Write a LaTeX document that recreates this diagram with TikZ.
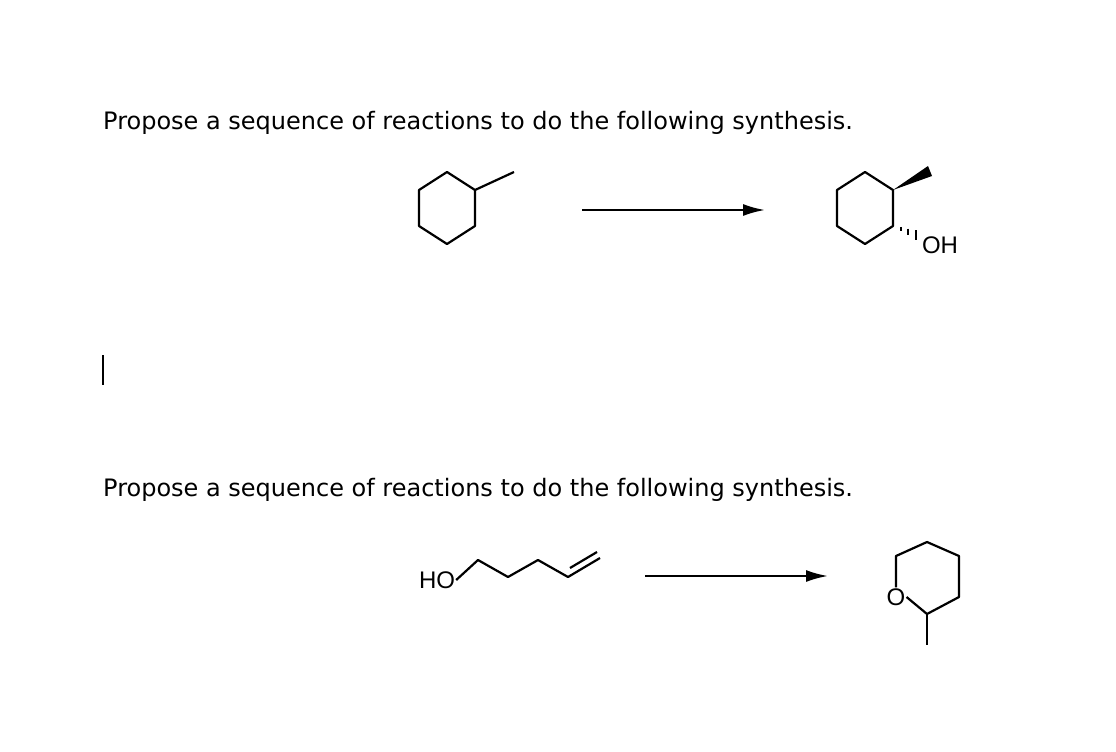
\documentclass[tikz,border=0pt]{standalone}
\usepackage{fontspec}
\usetikzlibrary{arrows.meta,calc}
\setmainfont{DejaVu Sans}
\newfontfamily\labfont{Liberation Sans}
\begin{document}
\begin{tikzpicture}[x=1pt,y=-1pt,bond/.style={line width=2.2pt,line join=round},
 rarrow/.style={line width=2.2pt,-{Latex[length=22pt,width=12pt]}},
 title/.style={anchor=west,font=\fontsize{24}{28}\selectfont,inner sep=0},
 lab/.style={font=\labfont\fontsize{24}{28}\selectfont,inner sep=1pt}]
\useasboundingbox[fill=white] (0,0) rectangle (1116,752);
\node[title] (t1) at (103,123) {Propose a sequence of reactions to do the following synthesis.};
\node[title] (t2) at (103,490) {Propose a sequence of reactions to do the following synthesis.};
\draw[line width=1.8pt] (103,355) -- (103,385);
% top left
\draw[bond] (447,172)--(475,190)--(475,226)--(447,244)--(419,226)--(419,190)--cycle (475,190)--(514,172);
\coordinate (a1) at (582,210); \coordinate (a2) at (765,210);
\draw[rarrow] (a1)--(a2);
% top right
\draw[bond] (865,172)--(893,190)--(893,226)--(865,244)--(837,226)--(837,190)--cycle;
\fill (893,190)--(928,166)--(932,176)--cycle;
\node[lab] (oh) at (940,245) {OH};
\foreach \t in {0.3,0.6,0.9}{
 \draw[line width=2pt] ($(893,226)!\t!(918,236)+(0,-4*\t-1)$)--($(893,226)!\t!(918,236)+(0,4*\t+1)$);}
% bottom left
\node[lab] (ho) at (437,580) {HO};
\draw[bond] (ho.east)--(478,560)--(508,577)--(538,560)--(568,577)--(600,558);
\draw[bond] (570,568)--(597,552);
\coordinate (b1) at (645,576); \coordinate (b2) at (828,576);
\draw[rarrow] (b1)--(b2);
% pyran
\node[lab] (o) at (896,597) {O};
\draw[bond] (o.north)--(896,556)--(927,542)--(959,556)--(959,597)--(927,614)--(o.east);
\draw[bond] (927,614)--(927,645);
\end{tikzpicture}
\end{document}
